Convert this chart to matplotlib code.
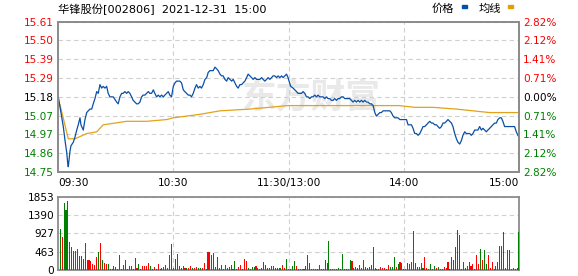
import numpy as np
import matplotlib
matplotlib.use('Agg')
import matplotlib.pyplot as plt

plt.rcParams['font.family'] = ['DejaVu Sans', 'Noto Sans CJK SC']

title = '华锋股份[002806]  2021-12-31  15:00'
pre_close = 15.18
max_dev = 0.43

price_labels = ['15.61', '15.50', '15.39', '15.29', '15.18', '15.07', '14.97', '14.86', '14.75']
pct_labels = ['2.82%', '2.12%', '1.41%', '0.71%', '0.00%', '0.71%', '1.41%', '2.12%', '2.82%']
time_labels = ['09:30', '10:30', '11:30/13:00', '14:00', '15:00']
vol_labels = ['0', '463', '927', '1390', '1853']
vol_max = 1853

# minutes since 09:30 (lunch break removed) and price
price_t = [0, 0.9, 1.8, 2.6, 3.5, 4.4, 4.9, 5.2, 6.1, 6.6, 7.8, 8.7, 9.6, 10.4, 11.3, 11.8,
           13.0, 13.9, 14.8, 15.6, 16.5, 17.4, 18.2, 19.1, 20.0, 20.8, 21.7, 22.6, 23.4, 24.3,
           25.2, 26.0, 26.9, 28.6, 30.4, 31.2, 32.1, 33.0, 33.8, 34.7, 35.6, 36.4, 37.3, 38.2,
           39.0, 39.9, 40.8, 41.6, 42.5, 43.4, 44.2, 45.1, 46.0, 46.9, 47.7, 48.6, 49.5, 50.3,
           51.2, 52.1, 52.9, 53.8, 54.7, 55.5, 56.4, 57.3, 58.1, 59.0, 59.9, 60.8, 61.6, 63.3,
           64.2, 65.1, 65.9, 66.8, 67.7, 68.6, 69.4, 70.3, 71.2, 72.0, 72.9, 73.8, 74.6, 75.5,
           76.4, 77.3, 78.1, 79.0, 79.9, 80.7, 81.6, 82.5, 83.3, 84.2, 85.1, 85.9, 86.8, 87.7,
           88.5, 89.4, 90.3, 91.1, 92.0, 92.9, 93.7, 94.6, 95.5, 96.3, 97.2, 98.1, 98.9, 99.8,
           100.7, 101.5, 102.4, 103.3, 104.1, 105.0, 105.9, 106.7, 107.6, 108.5, 109.3, 110.2,
           111.1, 111.9, 112.8, 113.7, 114.5, 115.4, 116.3, 117.1, 118.0, 118.9, 119.7, 120.2,
           121.1, 122.3, 123.2, 124.1, 124.9, 126.7, 127.5, 128.4, 129.3, 130.1, 131.0, 131.9,
           132.7, 133.6, 134.5, 135.3, 136.2, 137.1, 137.9, 138.8, 139.7, 140.5, 141.4, 142.3,
           143.2, 144.0, 144.9, 145.8, 146.6, 147.5, 148.4, 149.2, 151.0, 151.8, 152.7, 153.6,
           154.4, 155.3, 156.2, 157.0, 157.9, 158.8, 159.6, 160.5, 161.4, 162.3, 163.1, 164.0,
           164.9, 165.7, 166.6, 167.5, 168.3, 169.2, 171.8, 172.7, 173.5, 174.4, 175.3, 176.2,
           177.0, 177.9, 178.8, 179.6, 181.4, 182.2, 184.0, 184.8, 185.7, 186.6, 187.4, 188.3,
           189.2, 190.0, 190.9, 191.8, 192.6, 193.5, 194.4, 195.2, 196.1, 197.0, 197.8, 198.7,
           199.6, 200.4, 201.3, 202.2, 203.0, 203.9, 204.8, 205.6, 206.5, 207.4, 208.2, 209.1,
           210.0, 210.8, 211.7, 212.6, 213.4, 214.3, 215.2, 216.0, 216.9, 217.8, 218.6, 219.5,
           220.4, 221.2, 222.1, 223.0, 223.8, 224.7, 225.6, 226.4, 227.3, 228.2, 229.0, 229.9,
           230.8, 231.6, 232.5, 233.4, 235.1, 236.0, 237.7, 238.6, 239.4, 240]
price = [15.18, 15.12, 15.06, 15.01, 14.93, 14.86, 14.80, 14.78, 14.87, 14.90, 14.92, 14.95,
         14.99, 15.02, 15.06, 15.02, 14.99, 15.05, 15.09, 15.10, 15.11, 15.11, 15.14, 15.17,
         15.21, 15.20, 15.25, 15.23, 15.24, 15.23, 15.24, 15.20, 15.18, 15.18, 15.15, 15.14,
         15.18, 15.20, 15.20, 15.21, 15.20, 15.21, 15.20, 15.18, 15.16, 15.15, 15.14, 15.14,
         15.15, 15.18, 15.19, 15.19, 15.20, 15.21, 15.20, 15.20, 15.22, 15.20, 15.18, 15.19,
         15.18, 15.19, 15.18, 15.19, 15.20, 15.21, 15.19, 15.18, 15.24, 15.26, 15.27, 15.27,
         15.26, 15.22, 15.21, 15.20, 15.19, 15.19, 15.18, 15.20, 15.23, 15.25, 15.23, 15.24,
         15.23, 15.25, 15.28, 15.29, 15.32, 15.33, 15.33, 15.33, 15.35, 15.34, 15.33, 15.31,
         15.30, 15.30, 15.28, 15.27, 15.29, 15.28, 15.27, 15.28, 15.26, 15.24, 15.23, 15.25,
         15.25, 15.26, 15.27, 15.29, 15.31, 15.30, 15.29, 15.28, 15.29, 15.28, 15.28, 15.28,
         15.29, 15.28, 15.27, 15.28, 15.29, 15.28, 15.29, 15.30, 15.30, 15.29, 15.30, 15.29,
         15.30, 15.29, 15.30, 15.31, 15.29, 15.27, 15.24, 15.23, 15.22, 15.21, 15.20, 15.20,
         15.21, 15.20, 15.18, 15.18, 15.17, 15.18, 15.18, 15.19, 15.18, 15.19, 15.18, 15.18,
         15.18, 15.17, 15.18, 15.17, 15.17, 15.16, 15.16, 15.17, 15.16, 15.17, 15.17, 15.18,
         15.18, 15.17, 15.17, 15.17, 15.16, 15.15, 15.16, 15.15, 15.16, 15.15, 15.16, 15.15,
         15.16, 15.15, 15.15, 15.14, 15.14, 15.13, 15.09, 15.07, 15.08, 15.09, 15.09, 15.10,
         15.10, 15.10, 15.09, 15.07, 15.06, 15.06, 15.06, 15.05, 15.05, 15.05, 15.05, 15.02,
         15.02, 15.00, 14.97, 14.97, 14.96, 14.97, 14.99, 15.01, 15.01, 15.02, 15.03, 15.04,
         15.03, 15.03, 15.02, 15.02, 15.01, 15.00, 15.01, 15.03, 15.03, 15.04, 15.05, 15.04,
         15.03, 15.01, 14.97, 14.94, 14.92, 14.91, 14.93, 14.96, 14.98, 14.97, 14.97, 14.97,
         14.96, 14.97, 14.99, 14.99, 14.99, 15.01, 14.99, 15.00, 14.99, 14.98, 14.99, 15.00,
         15.01, 15.02, 15.03, 15.03, 15.05, 15.06, 15.06, 15.04, 15.01, 15.01, 15.01, 15.01,
         15.01, 14.98, 14.96, 14.95]

avg_t = [0, 1, 5.2, 8.7, 14.8, 20.0, 21.7, 23.4, 35.6, 46.0, 56.4, 59.9, 73.8, 79.0, 84.2,
         99.8, 119.6, 177.6, 185.7, 195.1, 207.4, 216.0, 224.7, 235.1, 240]
avg = [15.16, 15.13, 14.94, 14.94, 14.97, 14.98, 15.00, 15.02, 15.04, 15.04, 15.05, 15.06,
       15.08, 15.09, 15.10, 15.11, 15.13, 15.13, 15.12, 15.12, 15.11, 15.10, 15.09, 15.09, 15.09]

# volume per minute (1..240), up = 1 red / 0 green
vol = [1025, 837, 1690, 1511, 1750, 709, 572, 470, 487, 538, 342, 342, 282, 683, 256, 256,
       230, 145, 128, 316, 453, 683, 256, 171, 145, 145, 26, 26, 102, 85, 26, 384, 26, 128,
       256, 26, 102, 102, 26, 299, 43, 145, 26, 102, 102, 102, 171, 102, 26, 85, 26, 145, 26,
       60, 85, 128, 43, 384, 658, 43, 282, 401, 102, 43, 102, 43, 43, 43, 102, 43, 60, 85,
       43, 43, 43, 171, 26, 453, 453, 367, 427, 85, 316, 43, 128, 26, 128, 43, 85, 128, 26,
       230, 26, 85, 128, 26, 282, 230, 43, 26, 85, 85, 102, 43, 26, 43, 196, 128, 43, 43,
       102, 102, 60, 43, 43, 43, 128, 60, 282,
       26, 26, 102, 230, 102, 26, 26, 26, 26, 102, 384, 171, 26, 26, 26, 26, 128, 26, 26,
       256, 171, 743, 26, 26, 26, 26, 60, 26, 410, 26, 26, 26, 256, 230, 60, 85, 60, 128, 60,
       256, 85, 43, 85, 128, 572, 60, 26, 26, 85, 43, 60, 26, 128, 85, 85, 316, 85, 145, 213,
       188, 26, 26, 188, 154, 213, 982, 188, 85, 85, 171, 60, 316, 60, 26, 145, 26, 102, 43,
       85, 26, 26, 85, 43, 196, 26, 316, 256, 572, 999, 897, 26, 213, 60, 111, 213, 111, 145,
       26, 367, 154, 538, 256, 512, 154, 367, 60, 213, 26, 111, 213, 615, 615, 956, 60, 512,
       512, 26, 43, 26, 60, 956]
vol_up = [0, 1, 0, 0, 0, 1, 1, 1, 1, 1, 0, 0, 0, 1, 1, 1,
          1, 1, 1, 1, 0, 1, 0, 1, 1, 0, 0, 1, 0, 0, 1, 0, 1, 1,
          0, 1, 1, 1, 0, 0, 1, 0, 0, 1, 1, 1, 1, 0, 1, 1, 0, 1, 1,
          0, 0, 0, 1, 1, 0, 1, 1, 1, 0, 1, 0, 1, 0, 1, 1, 0, 1, 1,
          0, 0, 1, 1, 0, 1, 0, 1, 1, 1, 0, 1, 0, 1, 0, 1, 1, 0, 1,
          0, 1, 1, 1, 0, 1, 1, 0, 1, 0, 0, 1, 0, 1, 0, 1, 0, 1, 0,
          1, 1, 0, 1, 1, 0, 1, 1, 0,
          1, 1, 0, 0, 1, 1, 1, 1, 1, 1, 0, 0, 1, 1, 1, 0, 1, 1, 0,
          0, 1, 0, 1, 1, 1, 1, 0, 1, 0, 1, 1, 1, 0, 1, 0, 0, 1, 0, 1,
          0, 1, 0, 0, 0, 0, 0, 1, 1, 1, 1, 1, 1, 1, 0, 0, 0, 1, 0, 1,
          1, 0, 1, 0, 1, 0, 0, 1, 0, 1, 1, 0, 1, 1, 1, 0, 1, 0, 1,
          0, 1, 1, 1, 1, 1, 0, 0, 0, 0, 0, 1, 1, 1, 1, 1, 0, 1, 1,
          1, 1, 1, 0, 1, 0, 0, 1, 1, 1, 1, 1, 1, 1, 1, 0, 1, 1,
          1, 0, 1, 1, 0, 0]

red = '#FF0000'
green = '#008000'
blue = '#0A50A5'
orange = '#E3A21A'
gridc = '#CFCFCF'
framec = '#8C8C8C'
fs = 7.6

fig = plt.figure(figsize=(5.78, 2.76), dpi=100)
ax = fig.add_axes([58.3/578, 1 - 172/276, (519 - 58.3)/578, (172 - 21.7)/276])
axv = fig.add_axes([58.3/578, 1 - 270/276, (519 - 58.3)/578, (270 - 196.7)/276])

ylo, yhi = pre_close - max_dev, pre_close + max_dev
yt = np.linspace(yhi, ylo, 9)

# watermark
ax.text(0.55, 0.50, '东方财富', transform=ax.transAxes, ha='center', va='center',
        fontsize=25, fontweight='bold', color='#E9E9E9', family=['Noto Sans CJK SC'],
        zorder=0)

ax.plot(avg_t, avg, color=orange, lw=0.9, zorder=3)
ax.plot(price_t, price, color=blue, lw=0.9, zorder=4)

ax.set_xlim(0, 240)
ax.set_ylim(ylo, yhi)
ax.set_yticks(yt)
ax.set_yticklabels(price_labels)
ax.set_xticks([0, 60, 120, 180, 240])
ax.set_xticklabels(time_labels)
ax.tick_params(length=0, labelsize=fs, pad=3)
ax.tick_params(axis='x', pad=4)
xl = ax.get_xticklabels()
xl[0].set_ha('left')
xl[-1].set_ha('right')
for k, lab in enumerate(ax.get_yticklabels()):
    lab.set_color(red if k < 4 else ('black' if k == 4 else green))
ax.grid(True, color=gridc, ls=(0, (4, 3)), lw=0.8)

ax2 = ax.twinx()
ax2.set_ylim(ylo, yhi)
ax2.set_yticks(yt)
ax2.set_yticklabels(pct_labels)
ax2.tick_params(length=0, labelsize=fs, pad=3)
for k, lab in enumerate(ax2.get_yticklabels()):
    lab.set_color(red if k < 4 else ('black' if k == 4 else green))

for a in (ax, ax2, axv):
    for s in a.spines.values():
        s.set_color(framec)
        s.set_linewidth(1.3)

# volume
xs = np.arange(1, len(vol) + 1)
cols = [red if u else green for u in vol_up[:len(vol)]]
axv.bar(xs, vol, width=0.55, color=cols, zorder=3)
axv.set_xlim(0, 240)
axv.set_ylim(0, vol_max)
axv.set_yticks(np.linspace(0, vol_max, 5))
axv.set_yticklabels(vol_labels)
axv.set_xticks([60, 120, 180])
axv.set_xticklabels([])
axv.tick_params(length=0, labelsize=fs, pad=3)
axv.grid(True, color=gridc, ls=(0, (4, 3)), lw=0.8)
axv.set_axisbelow(True)

# title and legend
fig.text(58/578, 1 - 9/276, title, fontsize=fs + 0.5, va='center', ha='left')
fig.text(443/578, 1 - 9/276, '价格', fontsize=fs + 0.5, va='center', ha='center')
fig.patches.append(plt.Rectangle((462/578, 1 - 8/276), 5/578, 3/276, color='#0050B0',
                                 transform=fig.transFigure, figure=fig))
fig.text(490/578, 1 - 9/276, '均线', fontsize=fs + 0.5, va='center', ha='center')
fig.patches.append(plt.Rectangle((508/578, 1 - 8/276), 5/578, 3/276, color='#E0A000',
                                 transform=fig.transFigure, figure=fig))

fig.savefig('out.png', dpi=100)
